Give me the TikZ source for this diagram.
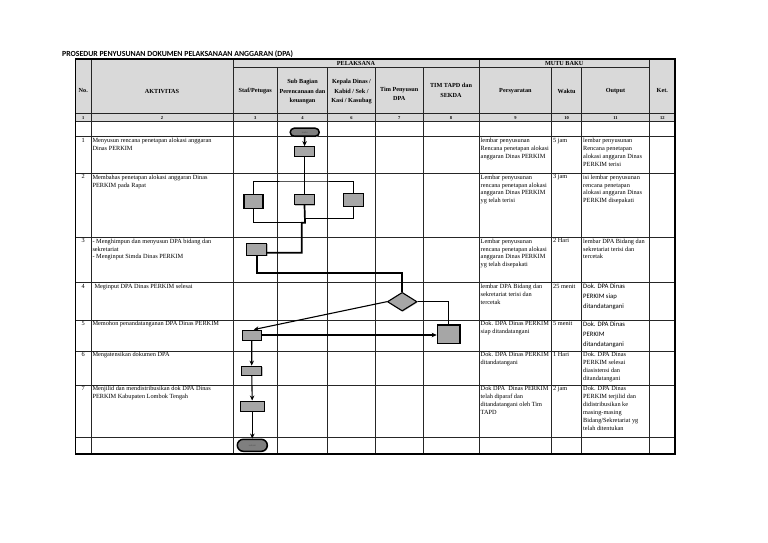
\documentclass[tikz,border=0pt]{standalone}
\usepackage{fontspec}
\setmainfont{Liberation Serif}
\newfontfamily\calib{Carlito}
\usetikzlibrary{arrows.meta,shapes.geometric,calc}
\definecolor{hdrgray}{HTML}{D9D9D9}
\definecolor{boxgray}{HTML}{A6A6A6}
\definecolor{termgray}{HTML}{7F7F7F}
\newcommand\bodyf{\fontsize{6.3}{7.9}\selectfont}
\newcommand\hdrf{\fontsize{6.2}{9.5}\selectfont\bfseries}
\newcommand\numf{\fontsize{4.5}{5}\selectfont\bfseries}
\newcommand\calf{\calib\fontsize{6.7}{10}\selectfont}
\tikzset{
  tline/.style={line width=0.9pt, black!85},
  hd/.style={inner sep=0, align=center, font=\hdrf},
  nm/.style={inner sep=0, font=\numf},
  txt/.style={anchor=north west, inner sep=0, align=left, font=\bodyf},
  ctxt/.style={anchor=north west, inner sep=0, align=left, font=\calf},
  shad/.style={preaction={fill=black!25, transform canvas={shift={(0.8pt,-0.8pt)}}}},
  proc/.style={draw, fill=boxgray, line width=0.9pt, inner sep=0, shad},
  term/.style={draw, fill=termgray, line width=1.5pt, inner sep=0,
    font=\fontsize{2.5}{3}\selectfont, text=black!70, shad},
  flow/.style={line width=1.7pt},
  mflow/.style={line width=1.1pt},
  tflow/.style={line width=0.9pt},
  tip/.style={-{Stealth[length=5pt,width=4.5pt]}}
}
\begin{document}
\begin{tikzpicture}[x=1pt,y=-1pt]
\useasboundingbox (0,0) rectangle (768,543);
\fill[white] (0,0) rectangle (768,543);

% title
\node[anchor=west, inner sep=0, font=\calib\fontsize{7.8}{9}\selectfont\bfseries] (title) at (62,54)
  {PROSEDUR PENYUSUNAN DOKUMEN PELAKSANAAN ANGGARAN (DPA)};

% header background
\fill[hdrgray] (75.7,59) rectangle (675.3,121.7);

% horizontal lines
\draw[tline] (233,67.7) -- (649.3,67.7);
\foreach \yy in {113.3,121.7,136.7,173.3,237.3,282.7,320,351,385,437.3}
  \draw[tline] (75.7,\yy) -- (675.3,\yy);
% vertical lines
\foreach \xx in {91,233,479,649.3}
  \draw[tline] (\xx,59) -- (\xx,454);
\foreach \xx in {277.3,327.7,375.3,423,551.7,581.7}
  \draw[tline] (\xx,67.7) -- (\xx,454);
% outer border
\draw[line width=1.1pt] (75.7,59) rectangle (675.3,454);
\draw[line width=1.8pt] (675.3,58.5) -- (675.3,454.5);
\draw[line width=1.5pt] (75.2,59) -- (675.3,59);

% header texts
\node[hd] (hno) at (83.3,91) {No.};
\node[hd] (hakt) at (162,91) {AKTIVITAS};
\node[hd] (hpel) at (356,63.4) {PELAKSANA};
\node[hd] (hmutu) at (564.2,63.4) {MUTU BAKU};
\node[hd] (hket) at (662.3,91) {Ket.};
\node[hd] (hstaf) at (255.2,91.5) {Staf/Petugas};
\node[hd] (hsub) at (302.5,92) {Sub Bagian\\Perencanaan dan\\keuangan};
\node[hd] (hkep) at (351.5,92) {Kepala Dinas /\\Kabid / Sek /\\Kasi / Kasubag};
\node[hd] (htim) at (399.2,94) {Tim Penyusun\\DPA};
\node[hd] (htapd) at (451,90.5) {TIM TAPD dan\\SEKDA};
\node[hd] (hsyar) at (515.4,91.5) {Persyaratan};
\node[hd] (hwak) at (566.7,91.5) {Waktu};
\node[hd] (hout) at (615.5,91.5) {Output};

% number row
\node[nm] (n1) at (83.3,117.6) {1};
\node[nm] (n2) at (162,117.6) {2};
\node[nm] (n3) at (255.2,117.6) {3};
\node[nm] (n4) at (302.5,117.6) {4};
\node[nm] (n6) at (351.5,117.6) {6};
\node[nm] (n7) at (399.2,117.6) {7};
\node[nm] (n8) at (451,117.6) {8};
\node[nm] (n9) at (515.4,117.6) {9};
\node[nm] (n10) at (566.7,117.6) {10};
\node[nm] (n11) at (615.5,117.6) {11};
\node[nm] (n12) at (662.3,117.6) {12};

% row 1
\node[txt] (r1n) at (81.5,138) {1};
\node[txt] (r1a) at (92.3,138) {Menyusun rencana penetapan alokasi anggaran\\Dinas PERKIM};
\node[txt] (r1s) at (480.5,138) {lembar penyusunan\\Rencana penetapan alokasi\\anggaran Dinas PERKIM};
\node[txt] (r1w) at (553,138) {5 jam};
\node[txt] (r1o) at (583,138) {lembar penyusunan\\Rencana penetapan\\alokasi anggaran Dinas\\PERKIM terisi};

% row 2
\node[txt] (r2n) at (81.5,174.6) {2};
\node[txt] (r2a) at (92.3,174.6) {Membahas penetapan alokasi anggaran Dinas\\PERKIM pada Rapat};
\node[txt] (r2s) at (480.5,174.6) {Lembar penyusunan\\rencana penetapan alokasi\\anggaran Dinas PERKIM\\yg telah terisi};
\node[txt] (r2w) at (553,174.6) {3 jam};
\node[txt] (r2o) at (583,174.6) {isi lembar penyusunan\\rencana penetapan\\alokasi anggaran Dinas\\PERKIM disepakati};

% row 3
\node[txt] (r3n) at (81.5,238.6) {3};
\node[txt] (r3a) at (92.3,238.6) {- Menghimpun dan menyusun DPA bidang dan\\sekretariat\\- Menginput Simda Dinas PERKIM};
\node[txt] (r3s) at (480.5,238.6) {Lembar penyusunan\\rencana penetapan alokasi\\anggaran Dinas PERKIM\\yg telah disepakati};
\node[txt] (r3w) at (553,238.6) {2 Hari};
\node[txt] (r3o) at (583,238.6) {lembar DPA Bidang dan\\sekretariat terisi dan\\tercetak};

% row 4
\node[txt] (r4n) at (81.5,284) {4};
\node[txt] (r4a) at (94.3,284) {Meginput DPA Dinas PERKIM selesai};
\node[txt] (r4s) at (480.5,284) {lembar DPA Bidang dan\\sekretariat terisi dan\\tercetak};
\node[txt] (r4w) at (553,284) {25 menit};
\node[ctxt] (r4o) at (583,284) {Dok. DPA Dinas\\PERKIM siap\\ditandatangani};

% row 5
\node[txt] (r5n) at (81.5,321.3) {5};
\node[txt] (r5a) at (92.3,321.3) {Memohon penandatanganan DPA Dinas PERKIM};
\node[txt] (r5s) at (480.5,321.3) {Dok. DPA Dinas PERKIM\\siap ditandatangani};
\node[txt] (r5w) at (553,321.3) {5 menit};
\node[ctxt] (r5o) at (583,321.3) {Dok. DPA Dinas\\PERKIM\\ditandatangani};

% row 6
\node[txt] (r6n) at (81.5,352.3) {6};
\node[txt] (r6a) at (92.3,352.3) {Mengatensikan dokumen DPA};
\node[txt] (r6s) at (480.5,352.3) {Dok. DPA Dinas PERKIM\\ditandatangani};
\node[txt] (r6w) at (553,352.3) {1 Hari};
\node[txt] (r6o) at (583,352.3) {Dok. DPA Dinas\\PERKIM selesai\\diasistensi dan\\ditandatangani};

% row 7
\node[txt] (r7n) at (81.5,386.3) {7};
\node[txt] (r7a) at (92.3,386.3) {Menjilid dan mendistribusikan dok DPA Dinas\\PERKIM Kabupaten Lombok Tengah};
\node[txt] (r7s) at (480.5,386.3) {Dok DPA~ Dinas PERKIM\\telah diparaf dan\\ditandatangani oleh Tim\\TAPD};
\node[txt] (r7w) at (553,386.3) {2 jam};
\node[txt] (r7o) at (583,386.3) {Dok. DPA Dinas\\PERKIM terjilid dan\\didistribusikan ke\\masing-masing\\Bidang/Sekretariat yg\\telah ditentukan};

% flow nodes
\node[term, rounded corners=4pt, minimum width=29pt, minimum height=8pt] (start) at (304.7,132.2) {mulai};
\node[proc, minimum width=20pt, minimum height=9.3pt] (b1) at (304.5,151.3) {};
\node[proc, line width=1.3pt, minimum width=19pt, minimum height=13.7pt] (b2L) at (253.5,201.5) {};
\node[proc, minimum width=20pt, minimum height=10pt] (b2M) at (304.5,199.7) {};
\node[proc, line width=1.3pt, minimum width=20pt, minimum height=13.3pt] (b2R) at (353.3,200) {};
\node[proc, minimum width=20pt, minimum height=12.3pt] (b3) at (256.7,249.5) {};
\node[diamond, draw, fill=boxgray, line width=1.1pt, inner sep=0, minimum width=29.7pt, minimum height=18.7pt, shad] (dia) at (402.2,301.7) {};
\node[proc, minimum width=19pt, minimum height=10pt] (b5) at (251.8,335) {};
\node[proc, line width=1.3pt, minimum width=22.7pt, minimum height=18.3pt] (bR) at (448.7,334.2) {};
\node[proc, minimum width=20pt, minimum height=9.3pt] (b6) at (251.7,370.7) {};
\node[proc, minimum width=23.3pt, minimum height=10.7pt] (b7) at (252.3,406.3) {};
\node[term, rounded corners=6pt, minimum width=30pt, minimum height=12pt] (end) at (252.3,445.3) {selesai};

% connectors
\draw[flow, tip] (start) -- (b1);
\coordinate (sp) at (304.5,181);
\draw[flow] (b1) -- (b2M);
\draw[tflow] (b2L.north) |- (sp) -| (b2R.north);
\coordinate (m1) at (305,218.3);
\coordinate (m2) at (305,222.7);
\coordinate (m3) at (301.7,222.7);
\coordinate (m4) at (301.7,252.7);
\draw[tflow] (b2R.south) |- (m1);
\draw[tflow] (b2L.south) |- (m2);
\draw[flow] (b2M.south) -- (m2) -- (m3) -- (m4) -- (m4 -| b3.east);
\coordinate (c4) at (402.2,273.3);
\draw[flow] (b3.south) |- (c4) -- (dia.north);
\draw[mflow, tip] (dia.west) -- ($(b5.north)+(2,0)$);
\draw[tflow] (dia.east) -| (bR.north);
\draw[mflow, tip] (b5.east) -- (b5.east -| bR.west);
\draw[mflow, tip] (b5) -- (b6);
\draw[mflow, tip] (b6) -- (b7);
\draw[mflow, tip] (b7) -- (end);
\end{tikzpicture}
\end{document}
